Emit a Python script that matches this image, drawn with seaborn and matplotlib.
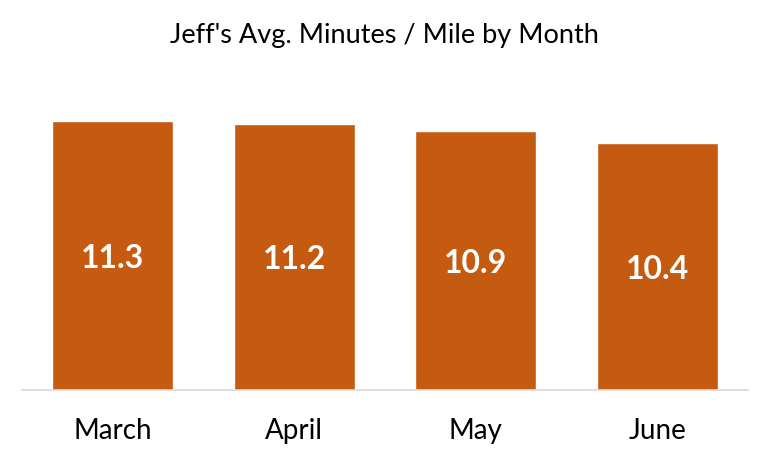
import matplotlib
matplotlib.use("Agg")
import matplotlib.pyplot as plt
import seaborn as sns
import pandas as pd

months = ["March", "April", "May", "June"]
minutes_per_mile = [11.3, 11.2, 10.9, 10.4]
title = "Jeff's Avg. Minutes / Mile by Month"

df = pd.DataFrame({"month": months, "value": minutes_per_mile})

sns.set_theme(style="white")
plt.rcParams['font.family'] = ['Lato', 'DejaVu Sans']

fig = plt.figure(figsize=(7.68, 4.58), dpi=100)
ax = fig.add_axes([22/768, 1-390/458, 726/768, 284/458])

sns.barplot(data=df, x="month", y="value", color="#C55A11", saturation=1,
            width=0.667, ax=ax)

ax.set_ylim(0, 11.95)
ax.set_xlim(-0.5, 3.5)
ax.set_xlabel("")
ax.set_ylabel("")
ax.set_yticks([])
for s in ["top", "left", "right"]:
    ax.spines[s].set_visible(False)
ax.spines["bottom"].set_color("#D9D9D9")
ax.spines["bottom"].set_linewidth(1.2)
ax.tick_params(axis="x", length=0, labelsize=20, pad=20, colors="black")

for p, v in zip(ax.patches, minutes_per_mile):
    ax.annotate(f"{v:.1f}", (p.get_x() + p.get_width()/2, v/2),
                xytext=(0, -3), textcoords="offset pixels",
                ha="center", va="center",
                color="white", fontsize=23, fontweight="bold")

fig.text(0.5, 1-35/458, title, ha="center", va="center", fontsize=19.5, color="black")

fig.savefig("out.png", dpi=100, facecolor="white")
